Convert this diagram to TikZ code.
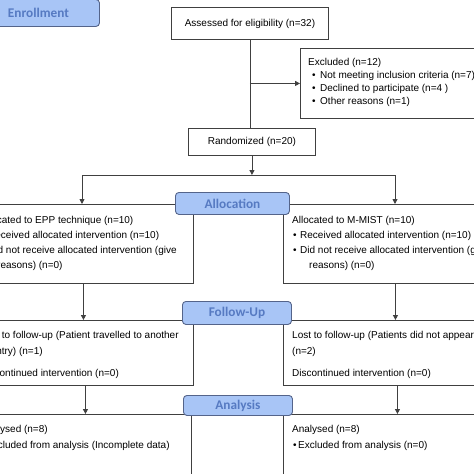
\documentclass[tikz,border=0pt]{standalone}
\usepackage{fontspec}
\setmainfont{Liberation Sans}
\newfontfamily\phasefont{Carlito}
\usetikzlibrary{arrows.meta}

\definecolor{linegray}{RGB}{64,64,64}
\definecolor{phasefill}{RGB}{168,197,246}
\definecolor{phaseedge}{RGB}{84,100,138}
\definecolor{phasetext}{RGB}{86,122,194}

\tikzset{
  box/.style={draw=linegray, line width=0.9pt, fill=white, inner sep=0pt, anchor=north west,
    font=\fontsize{10}{13}\selectfont},
  phase/.style={draw=phaseedge, fill=phasefill, rounded corners=3.5pt, line width=0.9pt,
    text=phasetext, inner sep=0pt, anchor=north west,
    font=\phasefont\bfseries\fontsize{13.3}{15}\selectfont},
  txt/.style={align=left, inner sep=0pt, anchor=base west}, % base = last line
  link/.style={draw=linegray, line width=0.9pt},
  flow/.style={link, -{Triangle[width=5pt,length=5pt]}},
}
\newcommand{\bul}[1]{\hspace*{#1}\makebox[7pt][l]{\textbullet}}

\begin{document}
\begin{tikzpicture}[x=1pt,y=-1pt]
  \useasboundingbox (0,0) rectangle (474,474);
  \clip (0,0) rectangle (474,474);
  \fill[white] (0,0) rectangle (474,474);

  % enrollment
  \node[box, minimum width=157pt, minimum height=32pt] (assess) at (171,7) {Assessed for eligibility (n=32)};
  \node[box, minimum width=210pt, minimum height=70pt] (excl) at (300,48) {};
  \node[txt, font=\fontsize{10}{13}\selectfont] (excltxt) at (308,104.5)
    {Excluded (n=12)\\
     \bul{4pt}\hspace*{1pt}Not meeting inclusion criteria (n=7)\\
     \bul{4pt}\hspace*{1pt}Declined to participate (n=4 )\\
     \bul{4pt}\hspace*{1pt}Other reasons (n=1)};
  \node[box, minimum width=127pt, minimum height=27pt] (rand) at (188,128) {Randomized (n=20)};

  % allocation
  \node[box, minimum width=222pt, minimum height=79pt] (allocl) at (-29,204) {};
  \node[box, minimum width=222pt, minimum height=79pt] (allocr) at (283,204) {};
  \node[txt, font=\fontsize{10}{15}\selectfont] (allocltxt) at (-20,268.5)
    {Allocated to EPP technique (n=10)\\
     \bul{1pt}Received allocated intervention (n=10)\\
     \bul{1pt}Did not receive allocated intervention (give\\
     \hspace*{17pt}reasons) (n=0)};
  \node[txt, font=\fontsize{10}{15}\selectfont] (allocrtxt) at (292,268.5)
    {Allocated to M-MIST (n=10)\\
     \bul{1pt}Received allocated intervention (n=10)\\
     \bul{1pt}Did not receive allocated intervention (give\\
     \hspace*{17pt}reasons) (n=0)};

  % follow-up
  \node[box, minimum width=222pt, minimum height=65pt] (ful) at (-29,320) {};
  \node[box, minimum width=222pt, minimum height=65pt] (fur) at (283,320) {};
  \node[txt, font=\fontsize{10}{16}\selectfont] (fultxt) at (-20,376)
    {Lost to follow-up (Patient travelled to another\\
     country) (n=1)\\[6pt]
     Discontinued intervention (n=0)};
  \node[txt, font=\fontsize{10}{16}\selectfont] (furtxt) at (292,376)
    {Lost to follow-up (Patients did not appear at the clinic)\\
     (n=2)\\[6pt]
     Discontinued intervention (n=0)};

  % analysis
  \node[box, minimum width=220pt, minimum height=80pt] (anl) at (-29,414) {};
  \node[box, minimum width=222pt, minimum height=80pt] (anr) at (283,414) {};
  \node[txt, font=\fontsize{10}{15.5}\selectfont] (anltxt) at (-20,448)
    {Analysed (n=8)\\
     \bul{1pt}\hspace*{-2pt}Excluded from analysis (Incomplete data)};
  \node[txt, font=\fontsize{10}{15.5}\selectfont] (anrtxt) at (292,448)
    {Analysed (n=8)\\
     \bul{1pt}\hspace*{-2pt}Excluded from analysis (n=0)};

  % connectors
  \coordinate (exbr) at (assess.south |- excl.west);
  \coordinate (splitl) at (82,175);
  \coordinate (splitr) at (395,175);
  \coordinate (splitm) at (rand.south |- splitl);
  \draw[link] (assess.south) -- (assess.south |- rand.north);
  \draw[flow] (exbr) -- (excl.west);
  \draw[flow] (rand.south) -- (splitm);
  \draw[link] (splitl) -- (splitr);
  \draw[flow] (splitl) -- (splitl |- allocl.north);
  \draw[flow] (splitr) -- (splitr |- allocr.north);
  \draw[flow] ([xshift=1pt]allocl.south) -- ([xshift=1pt]allocl.south |- ful.north);
  \draw[flow] ([xshift=1pt]allocr.south) -- ([xshift=1pt]allocr.south |- fur.north);
  \draw[flow] ([xshift=3pt]ful.south) -- ([xshift=3pt]ful.south |- anl.north);
  \draw[flow] ([xshift=3pt]fur.south) -- ([xshift=3pt]fur.south |- anr.north);

  % phase labels
  \node[phase, minimum width=122pt, minimum height=27pt] (enrol) at (-23,-1) {Enrollment};
  \node[phase, minimum width=114pt, minimum height=22pt] (alloc) at (175,192) {Allocation};
  \node[phase, minimum width=109pt, minimum height=23pt] (follow) at (182,301) {Follow-Up};
  \node[phase, minimum width=109pt, minimum height=20pt] (analys) at (183,395) {Analysis};
\end{tikzpicture}
\end{document}
